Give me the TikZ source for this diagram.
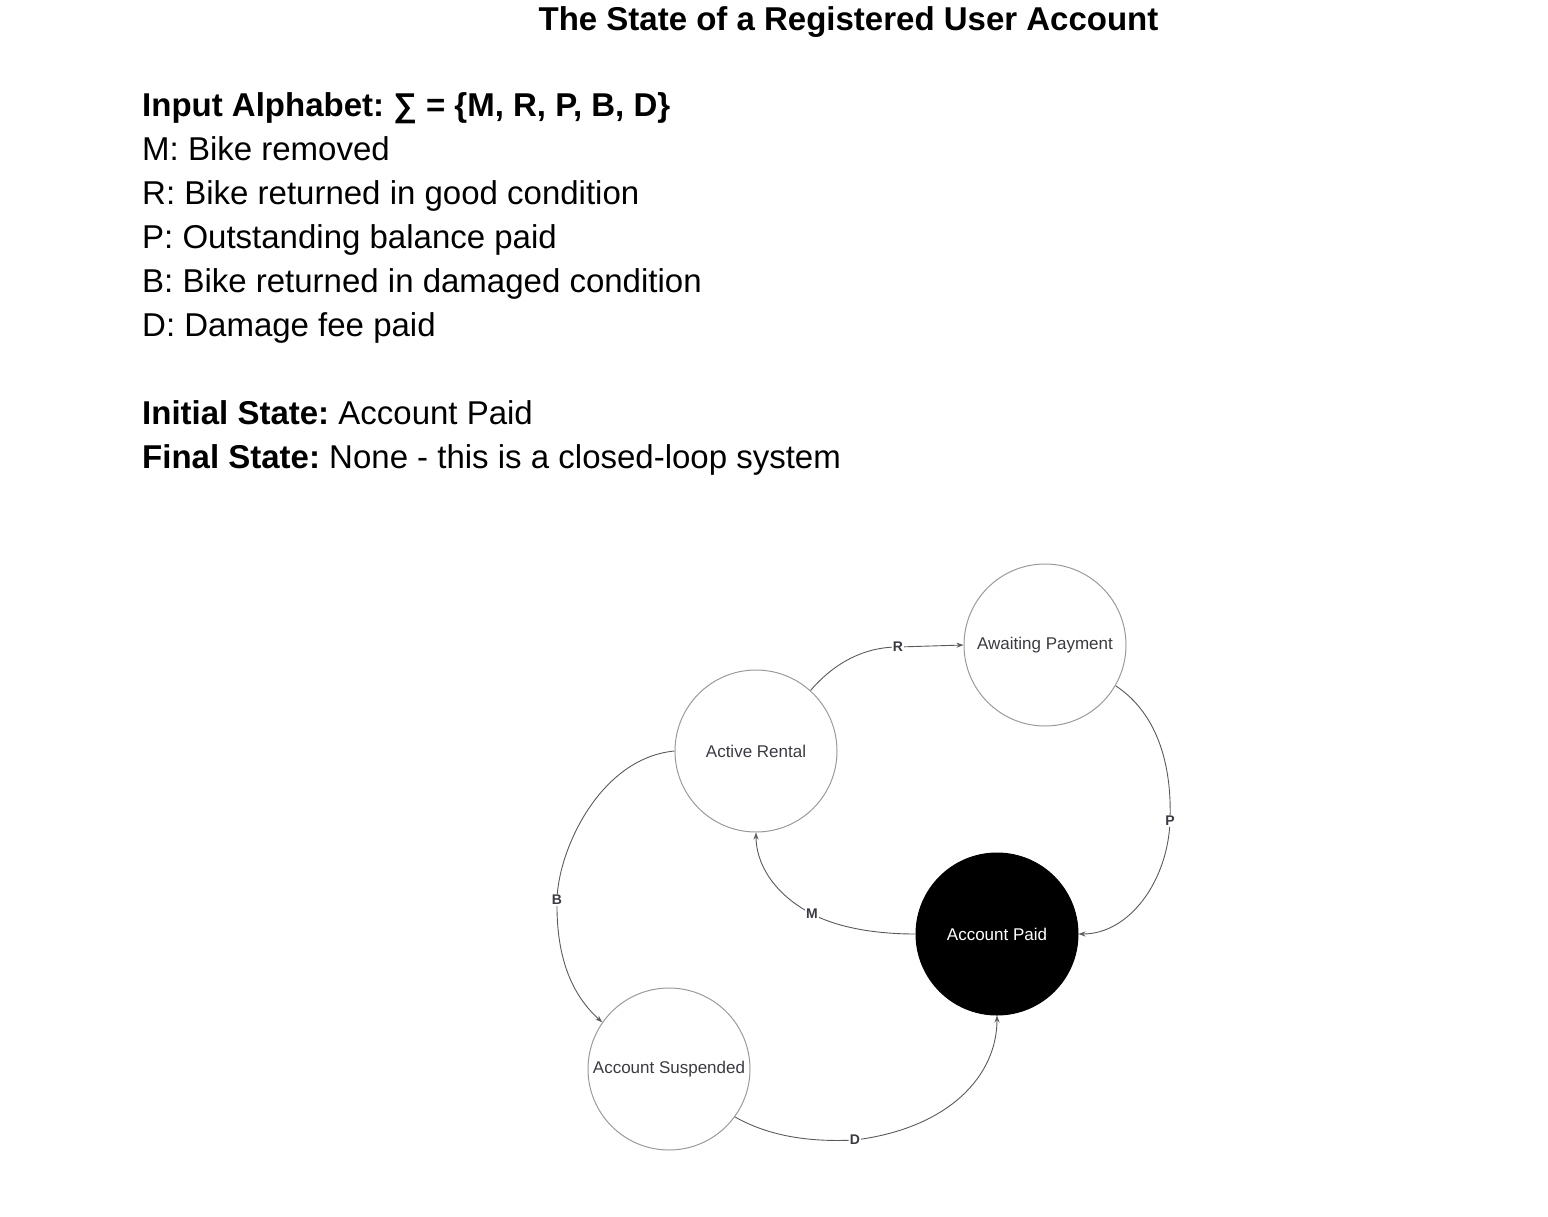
\documentclass[tikz,border=0pt]{standalone}
\usepackage{fontspec}
\setmainfont{Liberation Sans}
\usetikzlibrary{arrows.meta}
\AtBeginDocument{\frenchspacing}
\definecolor{ring}{HTML}{9A9A9A}
\definecolor{edgec}{HTML}{5A5A5A}
\definecolor{stxt}{HTML}{3A3A42}
\tikzset{
  body/.style={anchor=base west,inner sep=0pt,font=\frenchspacing\fontsize{33}{40}\selectfont},
  state/.style={circle,draw=ring,line width=1pt,minimum size=162pt,inner sep=0pt,text=stxt,font=\fontsize{17}{20}\selectfont},
  conn/.style={draw=edgec,line width=0.9pt,-{Stealth[length=7pt,width=5pt]}},
  elab/.style={fill=white,inner sep=1pt,text=stxt,font=\fontsize{14}{15}\selectfont\bfseries}
}
\begin{document}
\begin{tikzpicture}[x=1pt,y=-1pt]
\useasboundingbox (0,0) rectangle (1548,1216);
\node[anchor=base,inner sep=0pt,font=\fontsize{33}{40}\selectfont\bfseries] (title) at (848.5,30) {The State of a Registered User Account};
\node[body] (l1) at (142,116) {\textbf{Input Alphabet: ∑ = \{M, R, P, B, D\}}};
\node[body] (l2) at (142,160) {M: Bike removed};
\node[body] (l3) at (142,204) {R: Bike returned in good condition};
\node[body] (l4) at (142,248) {P: Outstanding balance paid};
\node[body] (l5) at (142,292) {B: Bike returned in damaged condition};
\node[body] (l6) at (142,336) {D: Damage fee paid};
\node[body] (l7) at (142,424) {\textbf{Initial State:} Account Paid};
\node[body] (l8) at (142,468) {\textbf{Final State:} None - this is a closed-loop system};

\node[state] (ap) at (1045,645) {Awaiting Payment};
\node[state] (ar) at (756,751) {Active Rental};
\node[state,fill=black,draw=black,text=white] (pd) at (997,934) {Account Paid};
\node[state] (as) at (669,1069) {Account Suspended};

\coordinate (cR) at (898,647);
\coordinate (cP) at (1170,821);
\coordinate (cM) at (812,914);
\coordinate (cB) at (557,900);
\coordinate (cD) at (855,1140);

\draw[conn] (ar.48) .. controls (835,662) and (865,647) .. (cR) -- (ap.west);
\draw[conn] (ap.-30) .. controls (1160,715) and (1172,770) .. (cP) .. controls (1168,880) and (1130,934) .. (pd.east);
\draw[conn] (pd.west) .. controls (870,934) and (835,926) .. (cM) .. controls (772,893) and (756,862) .. (ar.south);
\draw[conn] (ar.west) .. controls (600,758) and (558,850) .. (cB) .. controls (556,958) and (572,995) .. (as.145);
\draw[conn] (as.-36) .. controls (772,1138) and (815,1142) .. (cD) .. controls (950,1128) and (997,1075) .. (pd.south);

\node[elab] (lR) at (cR) {R};
\node[elab] (lP) at (cP) {P};
\node[elab] (lM) at (cM) {M};
\node[elab] (lB) at (cB) {B};
\node[elab] (lD) at (cD) {D};
\end{tikzpicture}
\end{document}
